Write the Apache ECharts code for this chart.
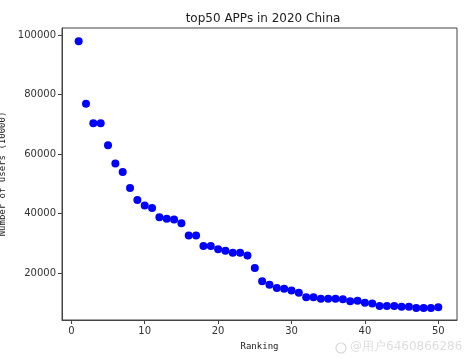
<!DOCTYPE html>
<html><head><meta charset="utf-8">
<script src="https://cdn.jsdelivr.net/npm/echarts@6/dist/echarts.min.js"></script>
<style>html,body{margin:0;padding:0;background:#fff}#c{width:474px;height:360px}</style>
</head><body><div id="c"></div>
<script>
var titleText = "top50 APPs in 2020 China";
var xName = "Ranking";
var yName = "Number of users (10000)";
var watermark = "@用户6460866286";
var xTicks = [0, 10, 20, 30, 40, 50];
var yTicks = [20000, 40000, 60000, 80000, 100000];
var ranks = [];
for (var i = 1; i <= 50; i++) ranks.push(i);
var users = [97900, 76900, 70400, 70400, 63000, 56900, 54000, 48600, 44600, 42800,
             41900, 38800, 38300, 38100, 36800, 32700, 32700, 29200, 29200, 28100,
             27600, 26900, 26900, 26000, 21800, 17300, 16200, 15100, 14800, 14200,
             13500, 12000, 12000, 11500, 11500, 11500, 11300, 10600, 10800, 10100,
             9900, 9000, 9000, 9000, 8800, 8800, 8400, 8400, 8400, 8600];

var data = ranks.map(function (r, i) { return [r, users[i]]; });
var chart = echarts.init(document.getElementById('c'), null, {renderer: 'canvas'});
var labelStyle = {fontFamily: 'DejaVu Sans', fontSize: 10, color: '#333', formatter: function (v) { return String(v); }};
chart.setOption({
  animation: false,
  backgroundColor: '#fff',
  title: {text: titleText, left: 258, top: 8, textAlign: 'center',
    textStyle: {fontFamily: 'DejaVu Sans', fontSize: 12, fontWeight: 'normal', color: '#222'}},
  grid: {left: 62, right: 17, top: 28, bottom: 40, containLabel: false, outerBoundsMode: 'none',
    show: true, borderColor: '#444', borderWidth: 1, backgroundColor: '#fff'},
  xAxis: {type: 'value', min: -1.27, max: 52.55,
    name: xName, nameLocation: 'middle', nameGap: 22,
    nameTextStyle: {fontFamily: 'DejaVu Sans Mono', fontSize: 9, color: '#222'},
    axisLine: {show: true, onZero: false, lineStyle: {color: '#444'}},
    axisTick: {show: true, length: 4, inside: false, customValues: xTicks, lineStyle: {color: '#444'}},
    axisLabel: Object.assign({customValues: xTicks, margin: 6}, labelStyle),
    splitLine: {show: false}},
  yAxis: {type: 'value', min: 4330, max: 102350,
    name: yName, nameLocation: 'middle', nameGap: 55, nameRotate: 90,
    nameTextStyle: {fontFamily: 'DejaVu Sans Mono', fontSize: 9, color: '#222'},
    axisLine: {show: true, onZero: false, lineStyle: {color: '#444'}},
    axisTick: {show: true, length: 4, inside: false, customValues: yTicks, lineStyle: {color: '#444'}},
    axisLabel: Object.assign({customValues: yTicks, margin: 6}, labelStyle),
    splitLine: {show: false}},
  series: [{type: 'scatter', data: data, symbol: 'circle', symbolSize: 8,
    itemStyle: {color: '#0000ff', opacity: 1}}],
  graphic: [
    {type: 'circle', shape: {cx: 341, cy: 348, r: 5}, style: {fill: 'none', stroke: '#d8d8d8', lineWidth: 1.2}},
    {type: 'text', left: 350, top: 341, style: {text: watermark, fontFamily: 'DejaVu Sans', fontSize: 12, fill: '#dedede'}}
  ]
});
</script></body></html>
